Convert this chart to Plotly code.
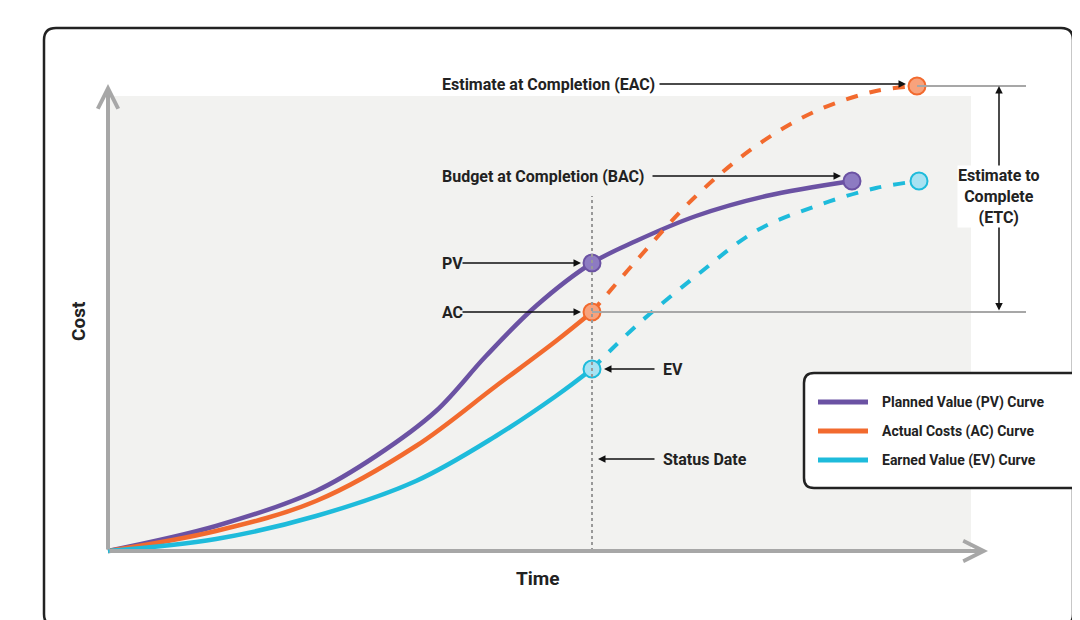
import plotly.graph_objects as go

# Data in chart units: time (x) and cost (y), origin at the axes corner
pv_time = [0, 108, 208, 268, 328, 378, 428, 484, 528, 588, 658, 744]
pv_cost = [0, 25, 60, 95, 140, 195, 245, 288, 310, 335, 355, 370]

ac_time = [0, 108, 208, 308, 388, 448, 484]
ac_cost = [0, 20, 50, 105, 165, 210, 239]
ac_fc_time = [484, 528, 588, 648, 708, 768, 809]
ac_fc_cost = [239, 290, 355, 405, 440, 460, 465]

ev_time = [0, 108, 208, 308, 388, 448, 484]
ev_cost = [0, 12, 35, 70, 115, 155, 182]
ev_fc_time = [484, 528, 588, 648, 708, 768, 811]
ev_fc_cost = [182, 225, 275, 320, 345, 363, 370]

status_time = 484
eac_cost = 465
etc_x = 891

PURPLE, ORANGE, CYAN, GRAY = '#6b52a3', '#f26a2e', '#1ebbdb', '#a7a7a7'
FONT = 'Liberation Sans Narrow, Roboto, Arial'

fig = go.Figure()

# background panel and frame
fig.add_shape(type='rect', x0=0, x1=863, y0=0, y1=455, fillcolor='#f2f2f0', line_width=0, layer='below')
fig.add_shape(type='path', layer='below',
              path='M -52,523 L 953,523 Q 965,523 965,511 L 965,-63 Q 965,-75 953,-75 L -52,-75 Q -64,-75 -64,-63 L -64,511 Q -64,523 -52,523 Z',
              line=dict(color='#222', width=2.5))

# gray reference lines
fig.add_shape(type='line', x0=809, x1=918, y0=eac_cost, y1=eac_cost, line=dict(color=GRAY, width=2))
fig.add_shape(type='line', x0=status_time, x1=918, y0=ac_cost[-1], y1=ac_cost[-1], line=dict(color=GRAY, width=2))
fig.add_shape(type='line', x0=status_time, x1=status_time, y0=0, y1=355, line=dict(color='#999', width=2, dash='dot'))

# axes with arrowheads
fig.add_annotation(x=880, y=0, ax=0, ay=0, xref='x', yref='y', axref='x', ayref='y', text='',
                   showarrow=True, arrowhead=5, arrowsize=1, arrowwidth=4, arrowcolor=GRAY)
fig.add_annotation(x=0, y=467, ax=0, ay=0, xref='x', yref='y', axref='x', ayref='y', text='',
                   showarrow=True, arrowhead=5, arrowsize=1, arrowwidth=4, arrowcolor=GRAY)

# curves
fig.add_trace(go.Scatter(x=pv_time, y=pv_cost, mode='lines', line=dict(color=PURPLE, width=4.5, shape='spline')))
fig.add_trace(go.Scatter(x=ac_time, y=ac_cost, mode='lines', line=dict(color=ORANGE, width=4.5, shape='spline')))
fig.add_trace(go.Scatter(x=ac_fc_time, y=ac_fc_cost, mode='lines', line=dict(color=ORANGE, width=4, dash='dash', shape='spline')))
fig.add_trace(go.Scatter(x=ev_time, y=ev_cost, mode='lines', line=dict(color=CYAN, width=4.5, shape='spline')))
fig.add_trace(go.Scatter(x=ev_fc_time, y=ev_fc_cost, mode='lines', line=dict(color=CYAN, width=4, dash='dash', shape='spline')))

# markers
fig.add_trace(go.Scatter(x=[pv_time[-1], status_time], y=[pv_cost[-1], pv_cost[7]], mode='markers',
                         marker=dict(size=17, color='#8d7bc2', line=dict(color=PURPLE, width=2))))
fig.add_trace(go.Scatter(x=[ac_fc_time[-1], status_time], y=[ac_fc_cost[-1], ac_cost[-1]], mode='markers',
                         marker=dict(size=17, color='#f8a27c', line=dict(color=ORANGE, width=2))))
fig.add_trace(go.Scatter(x=[ev_fc_time[-1], status_time], y=[ev_fc_cost[-1], ev_cost[-1]], mode='markers',
                         marker=dict(size=17, color='#a8e2f2', line=dict(color=CYAN, width=2))))


def arrow(x0, y0, x1, y1):
    fig.add_annotation(x=x1, y=y1, ax=x0, ay=y0, xref='x', yref='y', axref='x', ayref='y', text='',
                       showarrow=True, arrowhead=2, arrowwidth=1.5, arrowcolor='#111')


def text(x, y, s, size=16):
    fig.add_annotation(x=x, y=y, text='<b>%s</b>' % s, showarrow=False, xanchor='left',
                       font=dict(family=FONT, size=size, color='#222'))


arrow(550, 467, 798, 467)
text(332, 467, 'Estimate at Completion (EAC)')
arrow(543, 375, 733, 375)
text(332, 375, 'Budget at Completion (BAC)')
for txt, yy in [('PV', 288), ('AC', 239)]:
    arrow(353, yy, 473, yy)
    text(332, yy, txt)
arrow(548, 182, 496, 182)
text(553, 182, 'EV')
arrow(548, 92, 490, 92)
text(553, 92, 'Status Date')

# ETC double arrow
fig.add_annotation(x=etc_x, y=eac_cost, ax=etc_x, ay=ac_cost[-1], xref='x', yref='y', axref='x', ayref='y', text='',
                   showarrow=True, arrowhead=2, startarrowhead=2, arrowside='end+start', arrowwidth=1.5, arrowcolor='#111')
fig.add_annotation(x=etc_x, y=355, text='<b>Estimate to<br>Complete<br>(ETC)</b>', showarrow=False,
                   bgcolor='white', borderpad=0, font=dict(family=FONT, size=16, color='#222'))

# axis titles
fig.add_annotation(x=430, y=-27, text='<b>Time</b>', showarrow=False, font=dict(family=FONT, size=19, color='#222'))
fig.add_annotation(x=-30, y=230, text='<b>Cost</b>', textangle=-90, showarrow=False,
                   font=dict(family=FONT, size=19, color='#222'))

# legend box
fig.add_shape(type='path', line=dict(color='#222', width=2.5), fillcolor='white',
              path='M 706,178 L 980,178 L 980,63 L 706,63 Q 696,63 696,73 L 696,168 Q 696,178 706,178 Z')
for i, (name, col) in enumerate([('Planned Value (PV) Curve', PURPLE), ('Actual Costs (AC) Curve', ORANGE),
                                  ('Earned Value (EV) Curve', CYAN)]):
    yy = 149 - i * 29
    fig.add_shape(type='line', x0=710, x1=760, y0=yy, y1=yy, line=dict(color=col, width=5))
    text(772, yy, name, size=14)

fig.update_layout(
    width=1080, height=620, showlegend=False,
    margin=dict(l=0, r=0, t=0, b=0),
    paper_bgcolor='white', plot_bgcolor='white',
    xaxis=dict(range=[-100, 980], visible=False, fixedrange=True),
    yaxis=dict(range=[-77, 543], visible=False, fixedrange=True),
)

fig.write_html("out.html")
